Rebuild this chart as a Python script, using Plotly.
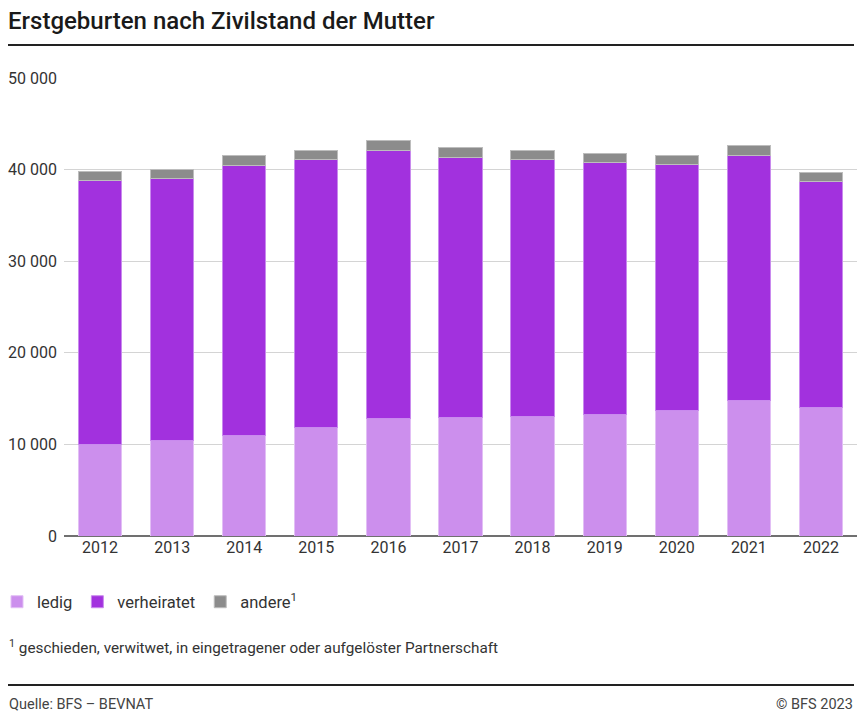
import plotly.graph_objects as go

years = ["2012", "2013", "2014", "2015", "2016", "2017", "2018", "2019", "2020", "2021", "2022"]
ledig = [9940, 10410, 10990, 11830, 12810, 12920, 13000, 13250, 13690, 14780, 14020]
verheiratet = [28890, 28640, 29450, 29220, 29270, 28430, 28050, 27480, 26810, 26790, 24630]
andere = [980, 985, 1090, 1060, 1050, 1090, 1060, 1020, 1030, 1090, 1025]

W, H = 862, 721
ML, MR, MT, MB = 64, 5, 77, 185
pw, ph = W - ML - MR, H - MT - MB

def px(x):
    return (x - ML) / pw

def py(y):
    return (H - MB - y) / ph

fig = go.Figure()
for name, vals, col, lc in [
    ("ledig", ledig, "#cc8fed", "#e2bff5"),
    ("verheiratet", verheiratet, "#a231de", "#c98aee"),
    ("andere<sup>1</sup>", andere, "#8c8c8c", "#bdbdbd"),
]:
    fig.add_trace(go.Bar(x=years, y=vals, name=name, marker=dict(color=col, line=dict(color=lc, width=1))))

font = "Roboto, 'Open Sans', sans-serif"
fig.update_layout(
    width=W, height=H,
    barmode="stack", bargap=0.4,
    separators=", ",
    plot_bgcolor="white", paper_bgcolor="white",
    margin=dict(l=ML, r=MR, t=MT, b=MB, autoexpand=False),
    font=dict(family=font, size=16, color="#333333"),
    title=dict(text="Erstgeburten nach Zivilstand der Mutter", xref="container", yref="container",
               x=8 / W, y=1 - 21 / H, xanchor="left", yanchor="middle",
               font=dict(family=font, size=24, color="#1a1a1a", weight=500)),
    xaxis=dict(showgrid=False, ticks="", automargin=False, tickfont=dict(size=16, color="#333333")),
    yaxis=dict(range=[0, 50100], dtick=10000, tickformat=",d", gridcolor="#d4d4d4", gridwidth=1,
               zeroline=True, zerolinecolor="#707070", zerolinewidth=1.5, automargin=False,
               ticks="", ticklabelstandoff=6, tickfont=dict(size=16, color="#333333")),
    legend=dict(orientation="h", x=px(-3), y=py(602), xanchor="left", yanchor="middle",
                font=dict(size=16.5, color="#333333"), traceorder="normal", itemwidth=30),
    showlegend=True,
)

fig.add_shape(type="line", xref="paper", yref="paper", x0=px(8), x1=px(854), y0=py(45), y1=py(45),
              line=dict(color="#222222", width=2))
fig.add_shape(type="line", xref="paper", yref="paper", x0=px(8), x1=px(854), y0=py(685), y1=py(685),
              line=dict(color="#222222", width=2))
fig.add_annotation(xref="paper", yref="paper", x=px(7), y=py(647), xanchor="left", yanchor="middle",
                   text="<sup>1</sup> geschieden, verwitwet, in eingetragener oder aufgelöster Partnerschaft",
                   showarrow=False, font=dict(size=15.3, color="#333333"))
fig.add_annotation(xref="paper", yref="paper", x=px(7), y=py(704), xanchor="left", yanchor="middle",
                   text="Quelle: BFS – BEVNAT", showarrow=False, font=dict(size=14.5, color="#444444"))
fig.add_annotation(xref="paper", yref="paper", x=px(855), y=py(704), xanchor="right", yanchor="middle",
                   text="© BFS 2023", showarrow=False, font=dict(size=14.5, color="#444444"))

fig.write_html("out.html")
